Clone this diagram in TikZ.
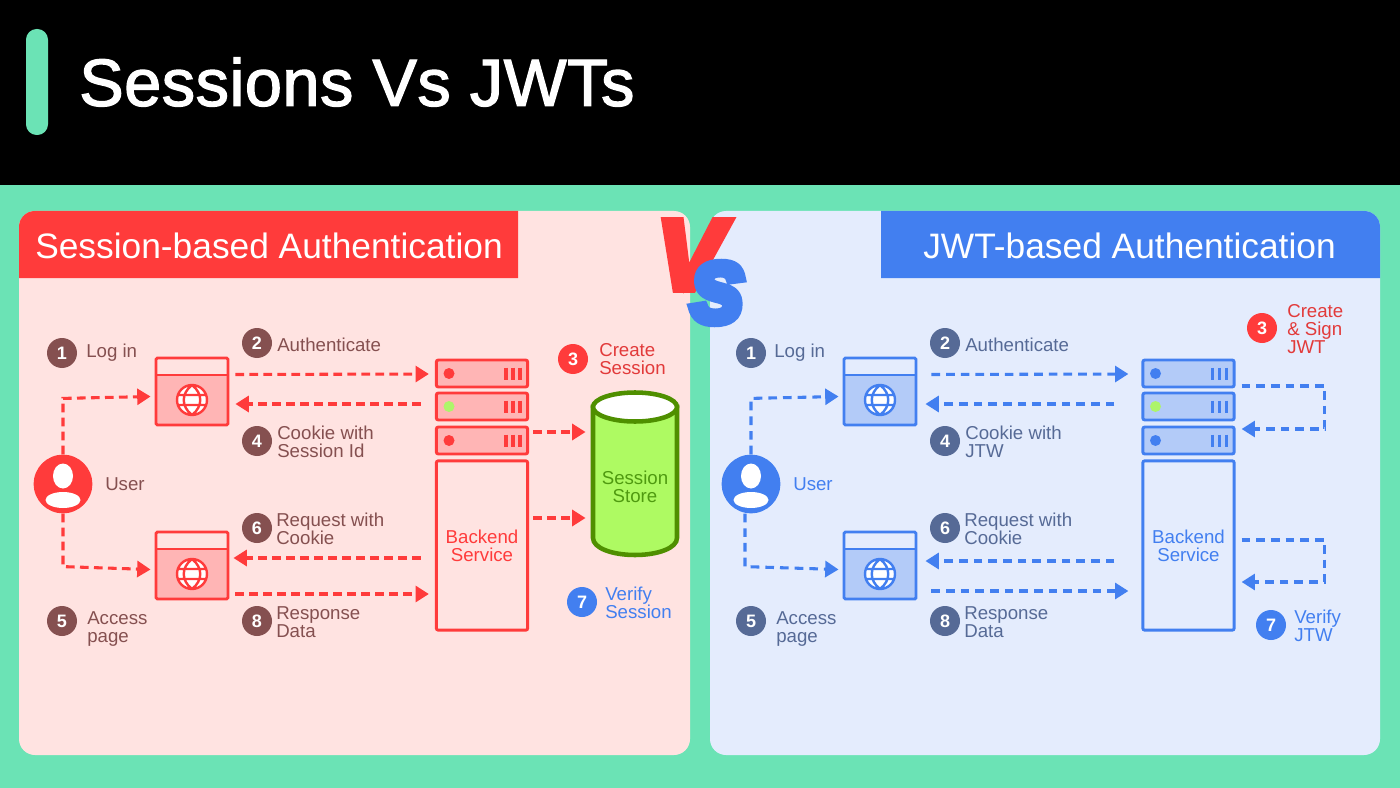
\documentclass[tikz,border=0pt]{standalone}
\usepackage{fontspec}
\setmainfont{Liberation Sans}
\newfontfamily\titlefont[FakeBold=2,LetterSpace=0.8]{Liberation Sans}
\newfontface\vsfont[FakeBold=8]{Liberation Sans Bold Italic}
\usetikzlibrary{arrows.meta}
\definecolor{mint}{HTML}{6BE3B5}
\definecolor{pinkbg}{HTML}{FFE3E1}
\definecolor{bluebg}{HTML}{E4ECFD}
\definecolor{hred}{HTML}{FF3B3B}
\definecolor{hblue}{HTML}{427FF0}
\definecolor{lred}{HTML}{FFB5B5}
\definecolor{lblue}{HTML}{B3CBF8}
\definecolor{tred}{HTML}{855050}
\definecolor{tblue}{HTML}{566A96}
\definecolor{dred}{HTML}{E23A3A}
\definecolor{gfill}{HTML}{AEFA62}
\definecolor{gline}{HTML}{4F8F00}
\definecolor{gtext}{HTML}{4F9A10}
\definecolor{lime}{HTML}{ADF56A}
\tikzset{
  x=0.75pt,y=-0.75pt,
  lab/.style={anchor=west,align=left,inner sep=0pt,font=\fontsize{14}{13.5}\selectfont},
  ctr/.style={align=center,inner sep=0pt,font=\fontsize{14}{13.5}\selectfont},
  badge/.style={circle,inner sep=0pt,minimum size=22.5pt,text=white,font=\bfseries\fontsize{13.5}{13.5}\selectfont},
  winbox/.style={draw=#1,line width=2.2pt,rounded corners=1pt,minimum width=54pt,minimum height=50.25pt,inner sep=0pt},
  srv/.style={draw=#1,line width=2.2pt,rounded corners=1.5pt,minimum width=68.5pt,minimum height=20.25pt,inner sep=0pt},
  backend/.style={draw=#1,line width=2.2pt,rounded corners=1.5pt,minimum width=68.5pt,minimum height=127pt,align=center,inner sep=0pt,text=#1,font=\fontsize{14}{13.5}\selectfont},
  dashR/.style={draw=hred,line width=2.3pt,dash pattern=on 6.5pt off 4pt,-{Triangle[length=10pt,width=12pt]}},
  dashB/.style={draw=hblue,line width=2.3pt,dash pattern=on 6.5pt off 4.5pt,-{Triangle[length=10pt,width=12pt]}},
  head/.style={inner sep=0pt,text=white,font=\fontsize{26.5}{26.5}\selectfont},
}
% \browserwin{name}{x}{y}{line}{fill}{panel}
\newcommand{\browserwin}[6]{%
  \fill[#5,rounded corners=1pt] (#2-36,#3-16) rectangle (#2+36,#3+33);
  \node[winbox=#4] (#1) at (#2,#3) {};
  \draw[#4,line width=2.2pt] (#2-36,#3-16.5) -- (#2+36,#3-16.5);
  \fill[white] (#2,#3+8.5) circle[radius=15];
  \draw[#4,line width=1.8pt] (#2,#3+8.5) circle[radius=15]
    (#2,#3-6.5) .. controls (#2-11,#3+2) and (#2-11,#3+15) .. (#2,#3+23.5)
    (#2,#3-6.5) .. controls (#2+11,#3+2) and (#2+11,#3+15) .. (#2,#3+23.5)
    (#2-14,#3+3.5) -- (#2+14,#3+3.5) (#2-14,#3+13.5) -- (#2+14,#3+13.5);
}
% \serverunit{name}{cx}{cy}{line}{fill}{dot}
\newcommand{\serverunit}[6]{%
  \node[srv=#4,fill=#5] (#1) at (#2,#3) {};
  \fill[#6] (#2-33,#3) circle[radius=5.5];
  \draw[#4,line width=2.7pt] (#2+24,#3-6) -- (#2+24,#3+6) (#2+31,#3-6) -- (#2+31,#3+6) (#2+38,#3-6) -- (#2+38,#3+6);
}
% \usericon{name}{x}{y}{color}
\newcommand{\usericon}[4]{%
  \node[circle,fill=#4,inner sep=0pt,minimum size=44pt] (#1) at (#2,#3) {};
  \fill[white] (#2,#3-8) ellipse[x radius=10,y radius=12.5];
  \fill[white] (#2,#3+16) ellipse[x radius=17.5,y radius=8];
}
\begin{document}
\begin{tikzpicture}
\useasboundingbox (0,0) rectangle (1400,788);
\fill[mint] (0,0) rectangle (1400,788);
\fill[black] (0,0) rectangle (1400,185);
\fill[mint,rounded corners=8pt] (26,29) rectangle (48,135);
\node[anchor=west,inner sep=0pt,text=white,font=\titlefont\fontsize{50}{50}\selectfont] (title) at (79,82) {Sessions Vs JWTs};

% panels
\fill[pinkbg,rounded corners=12pt] (19,211) rectangle (690,755);
\fill[bluebg,rounded corners=12pt] (710,211) rectangle (1380,755);
\fill[hred] (19,278) -- (19,227) .. controls (19,218) and (26,211) .. (35,211) -- (518,211) -- (518,278) -- cycle;
\fill[hblue] (881,278) -- (881,211) -- (1364,211) .. controls (1373,211) and (1380,218) .. (1380,227) -- (1380,278) -- cycle;
\node[head,anchor=west] (hs) at (35,246) {Session-based Authentication};
\node[head,anchor=west] (hj) at (923,246) {JWT-based Authentication};

% LEFT
\usericon{uL}{63}{484}{hred}
\node[lab,text=tred] (uLt) at (105,484) {User};
\browserwin{b1L}{192}{391.5}{hred}{lred}{pinkbg}
\browserwin{b2L}{192}{565.5}{hred}{lred}{pinkbg}
\serverunit{s1L}{482}{373.5}{hred}{lred}{hred}
\serverunit{s2L}{482}{406.5}{hred}{lred}{lime}
\serverunit{s3L}{482}{440.5}{hred}{lred}{hred}
\node[backend=hred] (beL) at (482,545.5) {Backend\\Service};

% cylinder
\draw[gline,fill=gfill,line width=3.4pt] (593,407) -- (593,538) .. controls (593,548) and (612,555) .. (635,555) .. controls (658,555) and (677,548) .. (677,538) -- (677,407) -- cycle;
\draw[gline,fill=white,line width=3.4pt] (635,407) ellipse[x radius=42,y radius=14.5];
\node[ctr,text=gtext] (store) at (635,486.5) {Session\\Store};

\node[badge,fill=tred] (n1L) at (62,353) {1};
\node[lab,text=tred] at (86,353) {Log in};
\node[badge,fill=tred] (n2L) at (257,343) {2};
\node[lab,text=tred] at (277,345) {Authenticate};
\node[badge,fill=hred] (n3L) at (573,359) {3};
\node[lab,text=dred] at (599,359) {Create\\Session};
\node[badge,fill=tred] (n4L) at (257,441) {4};
\node[lab,text=tred] at (277,442) {Cookie with\\Session Id};
\node[badge,fill=tred] (n6L) at (257,528) {6};
\node[lab,text=tred] at (276,529) {Request with\\Cookie};
\node[badge,fill=tred] (n5L) at (62,621) {5};
\node[lab,text=tred] at (87,629) {Access\\page};
\node[badge,fill=tred] (n8L) at (257,621) {8};
\node[lab,text=tred] at (276,622) {Response\\Data};
\node[badge,fill=hblue] (n7L) at (582,602) {7};
\node[lab,text=hblue] at (605,603) {Verify\\Session};

\draw[dashR] (uL.north) -- ++(0,-56) -- ([shift={(-4,5)}]b1L.west);
\draw[dashR] (uL.south) -- ++(0,53) -- ([shift={(-4,4)}]b2L.west);
\draw[dashR] ([shift={(6,-17)}]b1L.east) -- ([shift={(-6,0.5)}]s1L.west);
\draw[dashR] ([shift={(-14,-2.5)}]s2L.west) -- ([shift={(6,12.5)}]b1L.east);
\draw[dashR] ([shift={(4,-8.5)}]s3L.east) -- ([shift={(-16,-54.5)}]store.west);
\draw[dashR] ([shift={(4,-27.5)}]beL.east) -- ([shift={(-16,31.5)}]store.west);
\draw[dashR] ([shift={(-14,12.5)}]beL.west) -- ([shift={(4,-7.5)}]b2L.east);
\draw[dashR] ([shift={(6,28.5)}]b2L.east) -- ([shift={(-6,48.5)}]beL.west);

% RIGHT
\usericon{uR}{751}{484}{hblue}
\node[lab,text=hblue] (uRt) at (793,484) {User};
\browserwin{b1R}{880}{391.5}{hblue}{lblue}{bluebg}
\browserwin{b2R}{880}{565.5}{hblue}{lblue}{bluebg}
\serverunit{s1R}{1188.5}{373.5}{hblue}{lblue}{hblue}
\serverunit{s2R}{1188.5}{406.5}{hblue}{lblue}{lime}
\serverunit{s3R}{1188.5}{440.5}{hblue}{lblue}{hblue}
\node[backend=hblue] (beR) at (1188.5,545.5) {Backend\\Service};

\node[badge,fill=tblue] (n1R) at (751,353) {1};
\node[lab,text=tblue] at (774,353) {Log in};
\node[badge,fill=tblue] (n2R) at (945,343) {2};
\node[lab,text=tblue] at (965,345) {Authenticate};
\node[badge,fill=hred] (n3R) at (1262,328) {3};
\node[lab,text=dred] at (1287,329) {Create\\\& Sign\\JWT};
\node[badge,fill=tblue] (n4R) at (945,441) {4};
\node[lab,text=tblue] at (965,442) {Cookie with\\JTW};
\node[badge,fill=tblue] (n6R) at (945,528) {6};
\node[lab,text=tblue] at (964,529) {Request with\\Cookie};
\node[badge,fill=tblue] (n5R) at (751,621) {5};
\node[lab,text=tblue] at (776,629) {Access\\page};
\node[badge,fill=tblue] (n8R) at (945,621) {8};
\node[lab,text=tblue] at (964,622) {Response\\Data};
\node[badge,fill=hblue] (n7R) at (1271,625) {7};
\node[lab,text=hblue] at (1294,626) {Verify\\JTW};

\draw[dashB] (uR.north) -- ++(0,-56) -- ([shift={(-4,5)}]b1R.west);
\draw[dashB] ([xshift=-4.5pt]uR.south) -- ++(0,53) -- ([shift={(-4,4)}]b2R.west);
\draw[dashB] ([shift={(14,-17)}]b1R.east) -- ([shift={(-13,0.5)}]s1R.west);
\draw[dashB] ([shift={(-27,-2.5)}]s2R.west) -- ([shift={(8,12.5)}]b1R.east);
\draw[dashB] ([shift={(-27,15.5)}]beR.west) -- ([shift={(8,-4.5)}]b2R.east);
\draw[dashB] ([shift={(14,25.5)}]b2R.east) -- ([shift={(-13,45.5)}]beR.west);
\draw[dashB] ([shift={(6,12.5)}]s1R.east) -- ++(83,0) -- ++(0,43) -- ([shift={(6,-11.5)}]s3R.east);
\draw[dashB] ([shift={(6,-5.5)}]beR.east) -- ++(83,0) -- ++(0,42) -- ([shift={(6,36.5)}]beR.east);

% Vs
\node[inner sep=0pt,text=hred,font=\vsfont\fontsize{74}{74}\selectfont] (vsV) at (690,255) {V};
\node[inner sep=0pt,text=hblue,font=\vsfont\fontsize{82}{82}\selectfont,xscale=0.9,transform shape] (vsS) at (718,293) {s};
\end{tikzpicture}
\end{document}
